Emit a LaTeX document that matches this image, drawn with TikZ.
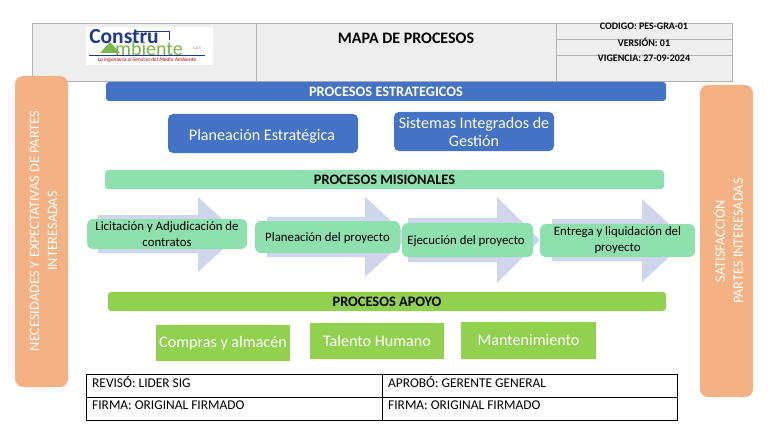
\documentclass[tikz,border=0pt]{standalone}
\usepackage{fontspec}
\setmainfont{Carlito}
\definecolor{hdr}{HTML}{EFEFEF}
\definecolor{hdrl}{HTML}{B2B2B2}
\definecolor{blu}{HTML}{4472C4}
\definecolor{mint}{HTML}{8EE0AE}
\definecolor{lime}{HTML}{92D050}
\definecolor{peach}{HTML}{F4B183}
\definecolor{arr}{HTML}{CFD5EA}
\definecolor{navy}{HTML}{1F3A8C}
\definecolor{lgreen}{HTML}{7AB648}
\tikzset{
 x=1pt,y=-1pt,
 cell/.style={draw=hdrl,fill=hdr,line width=.8pt,minimum height=0,minimum width=0},
 bar/.style={rounded corners=3pt,inner sep=0,font=\fontsize{14.4}{14.4}\selectfont\bfseries},
 card/.style={rounded corners=5pt,inner sep=0,align=center,text=white,font=\fontsize{16.1}{18}\selectfont},
 step box/.style={rounded corners=6pt,fill=mint,inner sep=0,align=center,font=\fontsize{12.8}{15.5}\selectfont},
 steplabel/.style={inner sep=0,align=center,font=\fontsize{12.8}{15.5}\selectfont},
 side/.style={fill=peach,rounded corners=8pt,inner sep=0},
 sidetext/.style={text=white,align=center,rotate=90,font=\fontsize{14.3}{18}\selectfont},
 flow/.style={fill=arr,draw=none},
 tcell/.style={draw=black,line width=.7pt,inner sep=0},
 ttext/.style={anchor=west,inner sep=0,font=\fontsize{13.4}{13.4}\selectfont},
 hsmall/.style={inner sep=0,font=\fontsize{10}{10}\selectfont\bfseries}
}
\newcommand{\boxnode}[6][]{\node[#2,minimum width=#5-#3,minimum height=#6-#4,#1] at ({(#3+#5)/2},{(#4+#6)/2})}
\begin{document}
\begin{tikzpicture}
\useasboundingbox (0,0) rectangle (768,433);
% header
\draw[cell] (32,23) rectangle (732,81);
\draw[hdrl,line width=.8pt] (256,23) -- (256,81) (556,23) -- (556,81) (556,39) -- (732,39) (556,55) -- (732,55);
\fill[white] (86,27) rectangle (213,65);
\node[inner sep=0,text=navy,font=\fontsize{21.5}{21.5}\selectfont\bfseries] (lc) at (124,37) {Constru};
\node[inner sep=0,text=lgreen,font=\fontsize{20}{20}\selectfont] (la) at (149,48.5) {mbiente};
\fill[lgreen] (100,53) -- (110,42) -- (120,53) -- cycle;
\draw[navy,line width=.7pt] (89,55) -- (205,55);
\draw[navy,line width=.5pt] (135,31) -- (169,31) -- (169,40);
\node[inner sep=0,text=black!50,font=\fontsize{4}{4}\selectfont] (lsas) at (197,48) {S.A.S};
\node[inner sep=0,text=red!70!black,font=\fontsize{5.5}{5.5}\selectfont\itshape] (ls) at (147,60.5) {La ingeniería al Servicio del Medio Ambiente};
\node[inner sep=0,font=\fontsize{16}{16}\selectfont\bfseries] (ttl) at (406,38) {MAPA DE PROCESOS};
\node[hsmall] (cod) at (644,26) {CODIGO: PES-GRA-01};
\node[hsmall] (ver) at (644,42) {VERSIÓN: 01};
\node[hsmall] (vig) at (644,58) {VIGENCIA: 27-09-2024};
% side boxes
\boxnode[side]{side}{15}{76}{68}{387} (sl) {};
\boxnode[side]{side}{700}{85}{753}{397} (sr) {};
\node[sidetext] (slt) at (43.5,231) {NECESIDADES Y EXPECTATIVAS DE PARTES\\INTERESADAS};
\node[sidetext] (srt) at (728,241) {SATISFACCIÓN\\PARTES INTERESADAS};
% bars
\boxnode[fill=blu,text=white]{bar}{106}{82}{666}{101} (b1) {PROCESOS ESTRATEGICOS};
\boxnode[fill=mint]{bar}{105}{170}{664}{189} (b2) {PROCESOS MISIONALES};
\boxnode[fill=lime]{bar}{108}{292}{666}{311} (b3) {PROCESOS APOYO};
% strategic
\boxnode[fill=blu]{card}{168}{114}{358}{153} (s1) {};
\node[inner sep=0,text=white,font=\fontsize{16.1}{18}\selectfont] (s1t) at (262,136.5) {Planeación Estratégica};
\boxnode[fill=blu]{card}{394}{112}{554}{151} (s2) {Sistemas Integrados de\\Gestión};
% flow arrows
\fill[flow] (98,215) -- (198,215) -- (198,197) -- (239,234.5) -- (198,272) -- (198,253) -- (98,253) -- cycle;
\fill[flow] (267,217) -- (365,217) -- (365,197) -- (409,237) -- (365,277) -- (365,257) -- (267,257) -- cycle;
\fill[flow] (408,218) -- (497,218) -- (497,197) -- (540,240) -- (497,283) -- (497,262) -- (408,262) -- cycle;
\fill[flow] (552,219) -- (642,219) -- (642,199) -- (687,240.5) -- (642,282) -- (642,261) -- (552,261) -- cycle;
\boxnode{step box}{87}{219}{247}{249} (m1) {Licitación y Adjudicación de\\contratos};
\boxnode{step box}{255}{221}{400}{253} (m2) {};
\node[steplabel] (m2t) at (327.5,238) {Planeación del proyecto};
\boxnode{step box}{402}{223}{533}{257} (m3) {};
\node[steplabel] (m3t) at (466,241) {Ejecución del proyecto};
\boxnode{step box}{540}{224}{695}{257} (m4) {};
\node[steplabel] (m4t) at (617.5,240) {Entrega y liquidación del\\proyecto};
% support
\boxnode[fill=lime,rounded corners=0pt]{card}{156}{325}{290}{361} (a1) {Compras y almacén};
\boxnode[fill=lime,rounded corners=0pt]{card}{310}{323}{444}{359} (a2) {Talento Humano};
\boxnode[fill=lime,rounded corners=0pt]{card}{461}{322}{596}{359} (a3) {Mantenimiento};
% bottom table
\draw[tcell] (86,374) rectangle (677,420);
\draw[black,line width=.7pt] (86,397) -- (677,397) (382,374) -- (382,420);
\node[ttext] (t1) at (92,381.5) {REVISÓ: LIDER SIG};
\node[ttext] (t2) at (388,381.5) {APROBÓ: GERENTE GENERAL};
\node[ttext] (t3) at (92,405) {FIRMA: ORIGINAL FIRMADO};
\node[ttext] (t4) at (388,405) {FIRMA: ORIGINAL FIRMADO};
\end{tikzpicture}
\end{document}
